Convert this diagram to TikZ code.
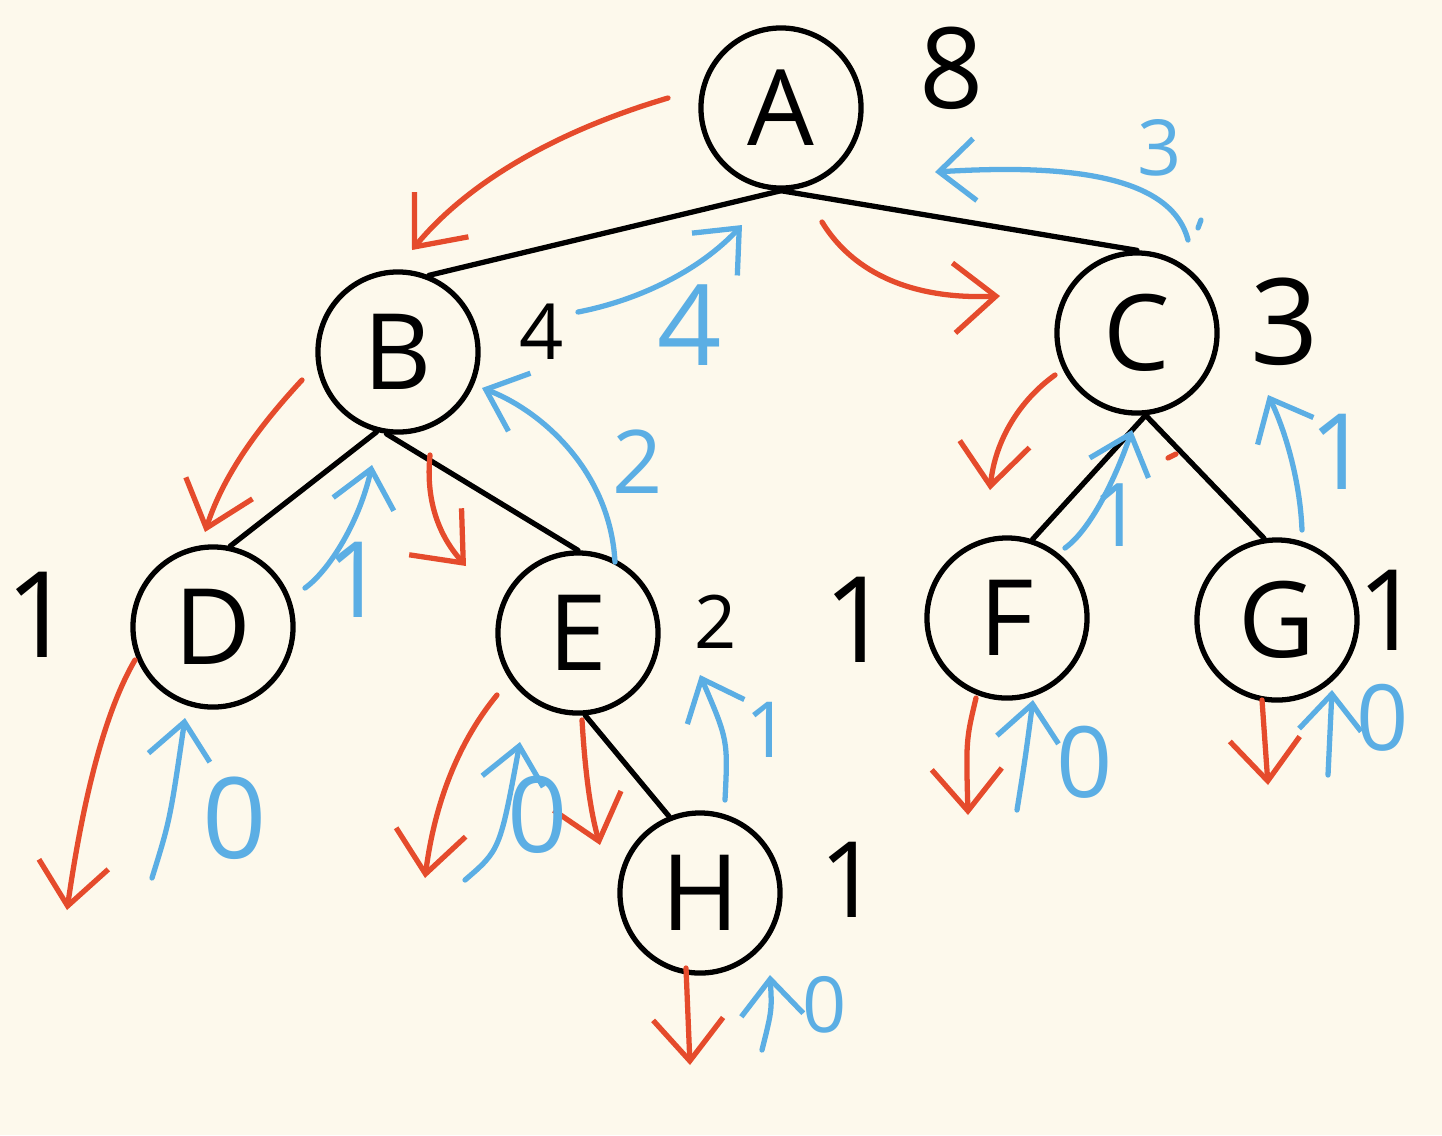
\documentclass[tikz,border=0pt]{standalone}
\usepackage{fontspec}
\setmainfont{Open Sans}
\usetikzlibrary{arrows.meta}
\definecolor{bg}{HTML}{FDF9EC}
\definecolor{hred}{HTML}{E54B2C}
\definecolor{hblue}{HTML}{5BAEE4}
\begin{document}
\begin{tikzpicture}[x=0.01cm,y=-0.01cm,line cap=round,line join=round,
  nd/.style={circle,draw,line width=1.5pt,minimum size=1.6cm,inner sep=0pt,font=\fontsize{30}{30}\selectfont},
  edge/.style={line width=1.5pt},
  rarr/.style={draw=hred,line width=1.5pt,-{Straight Barb[length=0.42cm,width=0.7cm]}},
  barr/.style={draw=hblue,line width=1.5pt,-{Straight Barb[length=0.36cm,width=0.62cm]}},
  num/.style={inner sep=0pt,font=\fontsize{#1}{#1}\selectfont},
  bnum/.style={inner sep=0pt,text=hblue,font=\fontsize{#1}{#1}\selectfont}]
\useasboundingbox (0,0) rectangle (1442,1135);
\fill[bg] (0,0) rectangle (1442,1135);

% tree nodes
\node[nd] (A) at (781,108) {A};
\node[nd] (B) at (398,352) {B};
\node[nd] (C) at (1137,333) {C};
\node[nd] (D) at (213,627) {D};
\node[nd] (E) at (578,633) {E};
\node[nd] (F) at (1007,618) {F};
\node[nd] (G) at (1277,620) {G};
\node[nd] (H) at (700,893) {H};

% tree edges
\draw[edge] (A.south) -- (B.68);
\draw[edge] (A.south) -- (C.north);
\draw[edge] (B.255) -- (D.78);
\draw[edge] (B.262) -- (E.north);
\draw[edge] (C.276) -- (F.72);
\draw[edge] (C.276) -- (G.99);
\draw[edge] (E.275) -- (H.112);

% black size labels
\node[num=32] (s8) at (952,68) {8};
\node[num=22] (s4) at (542,332) {4};
\node[num=34] (s3) at (1285,322) {3};
\node[num=34] (sD) at (40,615) {1};
\node[num=21] (sE) at (716,622) {2};
\node[num=34] (sF) at (858,620) {1};
\node[num=32] (sG) at (1390,610) {1};
\node[num=30] (sH) at (850,880) {1};

% red (downward) arrows
\draw[rarr] (668,98) .. controls (560,130) and (470,180) .. (412,250);
\draw[rarr] (822,222) .. controls (850,268) and (905,300) .. (1000,296);
\draw[rarr] (302,380) .. controls (265,420) and (225,470) .. (205,532);
\draw[rarr] (430,455) .. controls (424,515) and (450,548) .. (466,566);
\draw[rarr] (1055,375) .. controls (1020,400) and (995,440) .. (990,490);
\draw[rarr] (135,660) .. controls (100,720) and (80,820) .. (67,910);
\draw[rarr] (497,695) .. controls (460,740) and (435,800) .. (425,878);
\draw[rarr] (582,720) .. controls (585,770) and (590,810) .. (600,845);
\draw[rarr] (976,698) .. controls (966,740) .. (968,815);
\draw[rarr] (1262,700) -- (1268,785);
\draw[rarr] (686,968) -- (690,1065);
\draw[hred,line width=1.5pt] (1168,458) -- (1176,454);

% blue (upward) arrows
\draw[barr] (578,312) .. controls (640,300) and (700,270) .. (742,225);
\draw[barr] (615,562) .. controls (610,470) and (540,410) .. (482,388);
\draw[barr] (305,588) .. controls (330,570) and (360,520) .. (372,465);
\draw[barr] (1188,240) .. controls (1170,170) and (1050,165) .. (935,172);
\draw[hblue,line width=1.5pt] (1201,220) -- (1198,228);
\draw[barr] (1065,548) .. controls (1090,530) and (1115,480) .. (1132,430);
\draw[barr] (1302,530) .. controls (1300,480) and (1285,430) .. (1268,395);
\draw[barr] (152,878) .. controls (170,820) .. (185,718);
\draw[barr] (465,880) .. controls (500,850) .. (520,742);
\draw[barr] (725,800) .. controls (728,740) .. (700,675);
\draw[barr] (1017,810) .. controls (1025,760) .. (1033,700);
\draw[barr] (1328,775) -- (1332,690);
\draw[barr] (762,1050) .. controls (772,1010) .. (770,975);

% blue return-value labels
\node[bnum=32] (b4) at (690,325) {4};
\node[bnum=25] (b2) at (638,462) {2};
\node[bnum=30] (b1D) at (356,580) {1};
\node[bnum=22] (b3) at (1160,148) {3};
\node[bnum=25] (b1F) at (1118,515) {1};
\node[bnum=30] (b1G) at (1340,452) {1};
\node[bnum=32] (b0D) at (235,818) {0};
\node[bnum=30] (b0E) at (538,815) {0};
\node[bnum=22] (b1H) at (768,730) {1};
\node[bnum=28] (b0F) at (1085,762) {0};
\node[bnum=26] (b0G) at (1383,718) {0};
\node[bnum=22] (b0H) at (825,1005) {0};
\end{tikzpicture}
\end{document}
